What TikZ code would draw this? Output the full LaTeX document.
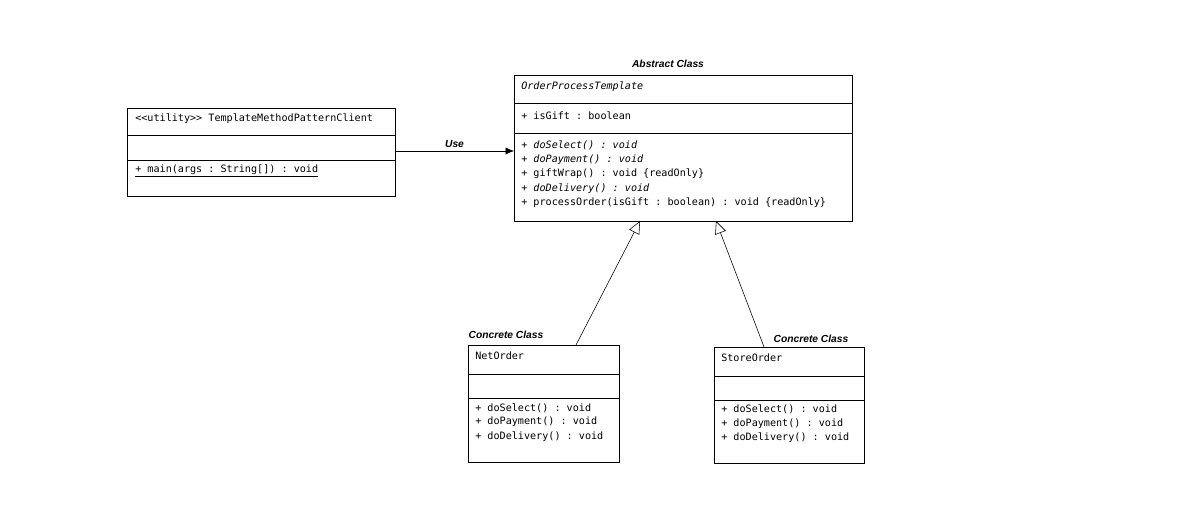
\documentclass[tikz,border=0pt]{standalone}
\usepackage{fontspec}
\setmonofont{DejaVu Sans Mono}
\newfontfamily\labelfont{Liberation Sans}
\usetikzlibrary{arrows.meta}
\tikzset{
  box/.style={draw,thin,anchor=north west,inner sep=0pt},
  txt/.style={anchor=west,inner sep=0pt,font=\ttfamily\fontsize{7.2}{8}\selectfont},
  itx/.style={txt,font=\ttfamily\itshape\fontsize{7.2}{8}\selectfont},
  stereo/.style={inner sep=0pt,font=\labelfont\bfseries\itshape\fontsize{7.3}{8}\selectfont},
}
\begin{document}
\begin{tikzpicture}[x=0.025cm,y=-0.025cm,thin]
\useasboundingbox (0,0) rectangle (1200,510);
% client
\node[box,minimum width=268*0.025cm,minimum height=88*0.025cm] (client) at (127,108) {};
\draw (127,135) -- (395,135) (127,160) -- (395,160);
\node[txt] (clientname) at (135,119) {<<utility>> TemplateMethodPatternClient};
\node[txt] (main) at (135,171) {\underline{+ main(args : String[]) : void}};
% template
\node[box,minimum width=338*0.025cm,minimum height=146*0.025cm] (tmpl) at (514,75) {};
\draw (514,103) -- (852,103) (514,133) -- (852,133);
\node[stereo] (abstract) at (668,64) {Abstract Class};
\node[itx] (tmplname) at (521,87) {OrderProcessTemplate};
\node[txt] (isgift) at (521,116) {+ isGift : boolean};
\node[itx] (m1) at (521,145) {+ doSelect() : void};
\node[itx] (m2) at (521,160) {+ doPayment() : void};
\node[txt] (m3) at (521,174) {+ giftWrap() : void \{readOnly\}};
\node[itx] (m4) at (521,189) {+ doDelivery() : void};
\node[txt] (m5) at (521,203) {+ processOrder(isGift : boolean) : void \{readOnly\}};
% net order
\node[box,minimum width=151*0.025cm,minimum height=117*0.025cm] (net) at (468,345) {};
\draw (468,374) -- (619,374) (468,398) -- (619,398);
\node[stereo] (netlabel) at (506,335) {Concrete Class};
\node[txt] (netname) at (475,356) {NetOrder};
\node[txt] (n1) at (475,408) {+ doSelect() : void};
\node[txt] (n2) at (475,422) {+ doPayment() : void};
\node[txt] (n3) at (475,437) {+ doDelivery() : void};
% store order
\node[box,minimum width=150*0.025cm,minimum height=116*0.025cm] (store) at (714,347) {};
\draw (714,376) -- (864,376) (714,400) -- (864,400);
\node[stereo] (storelabel) at (811,339) {Concrete Class};
\node[txt] (storename) at (721,358) {StoreOrder};
\node[txt] (s1) at (721,409) {+ doSelect() : void};
\node[txt] (s2) at (721,424) {+ doPayment() : void};
\node[txt] (s3) at (721,438) {+ doDelivery() : void};
% connectors
\coordinate (usefrom) at (395,151);
\coordinate (useto) at (514,151);
\draw[-{Latex[length=6pt,width=5pt]}] (usefrom) -- (useto) node[stereo,midway,above=2pt] {Use};
\coordinate (nettop) at (576,345);
\coordinate (storetop) at (764,347);
\coordinate (tmplleft) at (640,221);
\coordinate (tmplright) at (716,221);
\draw[-{Triangle[open,length=9pt,width=8pt]}] (nettop) -- (tmplleft);
\draw[-{Triangle[open,length=9pt,width=8pt]}] (storetop) -- (tmplright);
\end{tikzpicture}
\end{document}
